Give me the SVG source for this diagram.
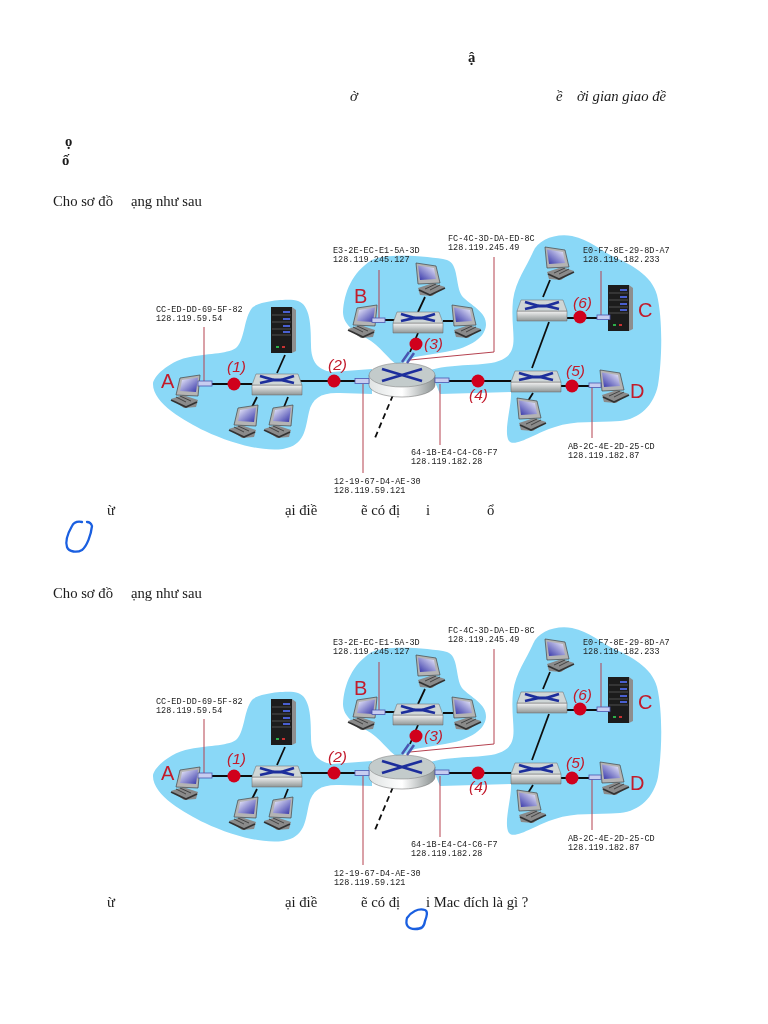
<svg xmlns="http://www.w3.org/2000/svg" xmlns:xlink="http://www.w3.org/1999/xlink" width="768" height="1024" viewBox="0 0 768 1024">
<style>
text{font-family:"Liberation Serif","Noto Sans CJK SC",serif;font-size:14.7px;fill:#1a1a1a}
.b{font-weight:bold}.i{font-style:italic}
.a{font-family:"Liberation Mono",monospace;font-size:8.5px;fill:#222}
.big{font-family:"Liberation Sans",sans-serif;font-size:20px;fill:#c21a2b}
.n{font-family:"Liberation Sans",sans-serif;font-size:15.5px;font-style:italic;fill:#c21a2b}
.blob{fill:#8ad8f7}
.lk{stroke:#111;stroke-width:1.8;fill:none}
.ld{stroke:#b5414f;stroke-width:1;fill:none}
.dot{fill:#d0021b}
.if{fill:#c7cdf0;stroke:#4a55b0;stroke-width:.8}
.ink{fill:none;stroke:#1a5fe0;stroke-width:2.300;stroke-linecap:round;stroke-linejoin:round}
.x{stroke:#1f2f9c;stroke-width:2.800;fill:none}
</style>
<defs>
<linearGradient id="scr" x1="0" y1="0" x2="1" y2="1"><stop offset="0" stop-color="#f4f4ff"/><stop offset="1" stop-color="#3434a8"/></linearGradient>
<linearGradient id="swf" x1="0" y1="0" x2="0" y2="1"><stop offset="0" stop-color="#f4f4f4"/><stop offset="1" stop-color="#8f9696"/></linearGradient>
<linearGradient id="rtf" x1="0" y1="0" x2="1" y2="0"><stop offset="0" stop-color="#dfe3e3"/><stop offset=".5" stop-color="#fff"/><stop offset="1" stop-color="#8b9292"/></linearGradient>
<filter id="soft" x="-5%" y="-5%" width="110%" height="110%"><feGaussianBlur stdDeviation="0.35"/></filter>
<g id="pc">
<path d="M-9,21 L3,17 L18,22 L16,29 L4,30Z" fill="#8a8a8a"/>
<path d="M-9,22 L6,29 L17,24" stroke="#333" stroke-width="1.600" fill="none"/>
<path d="M-4,19 L6,24 M0,18 L11,23" stroke="#444" stroke-width="1"/>
<path d="M0,0 L20,-3 L18,18 L-4,17Z" fill="#b4b4b4" stroke="#444" stroke-width=".7"/>
<path d="M2,2 L18,-.5 L16,14 L0,13Z" fill="url(#scr)"/>
</g>
<g id="pcr">
<use href="#pc" transform="scale(-1,1)"/>
</g>
<g id="sw">
<path d="M0,0 L50,0 L50,10 L0,10Z" fill="url(#swf)" stroke="#666" stroke-width=".5"/>
<path d="M4,-11 L46,-11 L50,0 L0,0Z" fill="#cfd6d6" stroke="#666" stroke-width=".5"/>
<path class="x" d="M8,-9 L22,-5 L29,-5 L42,-2 M42,-9 L29,-5 L22,-5 L8,-2"/>
</g>
<g id="srv">
<path d="M21,0 L25,3 L25,44 L21,46Z" fill="#8e8e8e"/>
<rect x="0" y="0" width="21" height="46" fill="#1c1c1c"/>
<path d="M1,8 H20 M1,15 H20 M1,22 H20 M1,28 H20" stroke="#666" stroke-width=".7"/>
<path d="M12,5 H19 M12,12 H19 M12,19 H19 M12,25 H19" stroke="#4a5fd0" stroke-width="1.800"/>
<rect x="5" y="39" width="3" height="2" fill="#2fae4a"/><rect x="11" y="39" width="3" height="2" fill="#c93030"/>
</g>
<g id="rt">
<path d="M-33,0 V10 A33,12 0 0 0 33,10 V0Z" fill="url(#rtf)" stroke="#666" stroke-width=".5"/>
<ellipse cx="0" cy="0" rx="33" ry="12" fill="#c3cbcb" stroke="#777" stroke-width=".5"/>
<path class="x" d="M-20,-6 L20,6 M20,-6 L-20,6"/>
</g>
</defs>

<g id="heading-text" filter="url(#soft)">
<text class="b" x="468" y="62">ậ</text>
<text class="i" x="350" y="101">ờ</text>
<text class="i" x="556" y="101">ề</text>
<text class="i" x="577" y="101">ời gian giao đề</text>
<text class="b" x="65" y="146">ọ</text>
<text class="b" x="62" y="165">ố</text>
<text x="53" y="206">Cho sơ đồ</text>
<text x="131" y="206">ạng như sau</text>
<text x="107" y="515">ừ</text>
<text x="285" y="515">ại điề</text>
<text x="361" y="515">ẽ có đị</text>
<text x="426" y="515">i</text>
<text x="487" y="515">ổ</text>
<text x="53" y="598">Cho sơ đồ</text>
<text x="131" y="598">ạng như sau</text>
<text x="107" y="907">ừ</text>
<text x="285" y="907">ại điề</text>
<text x="361" y="907">ẽ có đị</text>
<text x="426" y="907">i Mac đích là gì ?</text>
</g>
<path id="scribble-1" class="ink" d="M82,522 C77,521 74,522 72,526 C68,533 65,541 67,547 C69,552 77,553 82,550 C87,546 91,535 92,526 C91,523 89,522 87,522"/>
<path id="scribble-2" class="ink" d="M407,918 C405,925 408,929 415,929 C422,929 424,927 425,921 C427,916 428,911 425,910 C418,908 411,912 407,918Z"/>

<g id="diagram-1" filter="url(#soft)">
<g id="clouds-1">
<path class="blob" d="M153,383 C155,374 172,360 190,357 C210,353 230,354 237,347 C245,338 244,318 252,308 C258,301 290,298 298,301 C310,305 311,325 311,345 C311,362 318,370 332,372 L372,369 L372,394 L340,393 C322,392 312,398 309,412 C305,430 305,445 283,449 C262,452 230,443 205,431 C185,421 152,403 153,383Z"/>
<path class="blob" d="M343,312 C344,293 352,272 372,260 C385,253 430,256 447,260 C459,264 455,285 462,296 C470,305 487,312 486,325 C485,340 465,349 445,352 L415,357 L398,365 C388,360 380,345 366,338 C355,332 343,325 343,312Z"/>
<path class="blob" d="M533,252 C538,240 555,233 572,236 C590,240 600,250 612,256 C630,264 652,275 657,295 C663,320 662,360 658,385 C654,405 640,419 620,421 C595,423 575,420 555,427 C535,433 515,448 509,441 C503,432 512,405 511,392 L440,394 L430,370 C460,362 490,368 505,358 C520,348 510,330 513,300 C516,280 526,268 533,252Z"/>
</g>
<g id="connectors-1">
<path class="lk" d="M212,384 H252 M300,381 H355 M277,373 L285,355 M257,397 L252,407 M288,397 L284,407"/>
<path class="lk" stroke-dasharray="6 4" d="M393,395 L375,438"/>
<path class="lk" d="M385,320 H395 M418,312 L425,297 M443,321 H453 M418,333 L410,352"/>
<path class="lk" d="M449,381 H511 M532,368 L549,322 M543,297 L550,280 M567,318 H597 M561,386 H590 M533,393 L528,401"/>
<path class="ld" d="M204,327 V381 M363,384 V473 M379,270 V318 M410,360 L494,352 V257 M440,384 V445 M601,271 V315 M592,387 V438"/>
</g>
<g id="switch-a-1"><use href="#sw" transform="translate(252,385)"/></g>
<g id="switch-b-1"><use href="#sw" transform="translate(393,323)"/></g>
<g id="switch-c-1"><use href="#sw" transform="translate(517,311)"/></g>
<g id="switch-d-1"><use href="#sw" transform="translate(511,382)"/></g>
<g id="router-1"><use href="#rt" transform="translate(402,375)"/></g>
<g id="host-a-1"><use href="#pc" transform="translate(180,378)"/><rect class="if" x="198" y="381" width="14" height="5"/><text class="big" x="161" y="388">A</text></g>
<g id="server-a-1"><use href="#srv" transform="translate(271,307)"/></g>
<g id="pc-a1-1"><use href="#pc" transform="translate(238,408)"/></g>
<g id="pc-a2-1"><use href="#pc" transform="translate(273,408)"/></g>
<g id="host-b-1"><use href="#pc" transform="translate(357,308)"/><rect class="if" x="372" y="318" width="13" height="4.500"/><text class="big" x="354" y="303">B</text></g>
<g id="pc-b1-1"><use href="#pcr" transform="translate(436,266)"/></g>
<g id="pc-b2-1"><use href="#pcr" transform="translate(472,308)"/></g>
<g id="pc-c1-1"><use href="#pcr" transform="translate(565,250)"/></g>
<g id="host-c-1"><use href="#srv" transform="translate(608,285)"/><rect class="if" x="597" y="315" width="13" height="4.500"/><text class="big" x="638" y="317">C</text></g>
<g id="host-d-1"><use href="#pcr" transform="translate(620,373)"/><rect class="if" x="589" y="383" width="12" height="4.500"/><text class="big" x="630" y="398">D</text></g>
<g id="pc-d1-1"><use href="#pcr" transform="translate(537,401)"/></g>
<g id="if-router-1">
<rect class="if" x="355" y="378.500" width="14" height="5"/>
<rect class="if" x="435" y="378" width="14" height="4.500"/>
<path d="M402,362 L409,352 M407,363 L414,353" stroke="#4a55b0" stroke-width="2.500" fill="none"/>
</g>
<g id="points-1">
<circle class="dot" cx="234" cy="384" r="6.500"/><text class="n" x="227" y="372">(1)</text>
<circle class="dot" cx="334" cy="381" r="6.500"/><text class="n" x="328" y="370">(2)</text>
<circle class="dot" cx="416" cy="344" r="6.500"/><text class="n" x="424" y="349">(3)</text>
<circle class="dot" cx="478" cy="381" r="6.500"/><text class="n" x="469" y="400">(4)</text>
<circle class="dot" cx="572" cy="386" r="6.500"/><text class="n" x="566" y="376">(5)</text>
<circle class="dot" cx="580" cy="317" r="6.500"/><text class="n" x="573" y="308">(6)</text>
</g>
<g id="addresses-1">
<text class="a" x="156" y="312">CC-ED-DD-69-5F-82</text><text class="a" x="156" y="321">128.119.59.54</text>
<text class="a" x="333" y="253">E3-2E-EC-E1-5A-3D</text><text class="a" x="333" y="262">128.119.245.127</text>
<text class="a" x="448" y="241">FC-4C-3D-DA-ED-8C</text><text class="a" x="448" y="250">128.119.245.49</text>
<text class="a" x="583" y="253">E0-F7-8E-29-8D-A7</text><text class="a" x="583" y="262">128.119.182.233</text>
<text class="a" x="411" y="455">64-1B-E4-C4-C6-F7</text><text class="a" x="411" y="464">128.119.182.28</text>
<text class="a" x="568" y="449">AB-2C-4E-2D-25-CD</text><text class="a" x="568" y="458">128.119.182.87</text>
<text class="a" x="334" y="484">12-19-67-D4-AE-30</text><text class="a" x="334" y="493">128.119.59.121</text>
</g>
</g>

<g id="diagram-2" filter="url(#soft)" transform="translate(0,392)">
<g id="clouds-2">
<path class="blob" d="M153,383 C155,374 172,360 190,357 C210,353 230,354 237,347 C245,338 244,318 252,308 C258,301 290,298 298,301 C310,305 311,325 311,345 C311,362 318,370 332,372 L372,369 L372,394 L340,393 C322,392 312,398 309,412 C305,430 305,445 283,449 C262,452 230,443 205,431 C185,421 152,403 153,383Z"/>
<path class="blob" d="M343,312 C344,293 352,272 372,260 C385,253 430,256 447,260 C459,264 455,285 462,296 C470,305 487,312 486,325 C485,340 465,349 445,352 L415,357 L398,365 C388,360 380,345 366,338 C355,332 343,325 343,312Z"/>
<path class="blob" d="M533,252 C538,240 555,233 572,236 C590,240 600,250 612,256 C630,264 652,275 657,295 C663,320 662,360 658,385 C654,405 640,419 620,421 C595,423 575,420 555,427 C535,433 515,448 509,441 C503,432 512,405 511,392 L440,394 L430,370 C460,362 490,368 505,358 C520,348 510,330 513,300 C516,280 526,268 533,252Z"/>
</g>
<g id="connectors-2">
<path class="lk" d="M212,384 H252 M300,381 H355 M277,373 L285,355 M257,397 L252,407 M288,397 L284,407"/>
<path class="lk" stroke-dasharray="6 4" d="M393,395 L375,438"/>
<path class="lk" d="M385,320 H395 M418,312 L425,297 M443,321 H453 M418,333 L410,352"/>
<path class="lk" d="M449,381 H511 M532,368 L549,322 M543,297 L550,280 M567,318 H597 M561,386 H590 M533,393 L528,401"/>
<path class="ld" d="M204,327 V381 M363,384 V473 M379,270 V318 M410,360 L494,352 V257 M440,384 V445 M601,271 V315 M592,387 V438"/>
</g>
<g id="switch-a-2"><use href="#sw" transform="translate(252,385)"/></g>
<g id="switch-b-2"><use href="#sw" transform="translate(393,323)"/></g>
<g id="switch-c-2"><use href="#sw" transform="translate(517,311)"/></g>
<g id="switch-d-2"><use href="#sw" transform="translate(511,382)"/></g>
<g id="router-2"><use href="#rt" transform="translate(402,375)"/></g>
<g id="host-a-2"><use href="#pc" transform="translate(180,378)"/><rect class="if" x="198" y="381" width="14" height="5"/><text class="big" x="161" y="388">A</text></g>
<g id="server-a-2"><use href="#srv" transform="translate(271,307)"/></g>
<g id="pc-a1-2"><use href="#pc" transform="translate(238,408)"/></g>
<g id="pc-a2-2"><use href="#pc" transform="translate(273,408)"/></g>
<g id="host-b-2"><use href="#pc" transform="translate(357,308)"/><rect class="if" x="372" y="318" width="13" height="4.500"/><text class="big" x="354" y="303">B</text></g>
<g id="pc-b1-2"><use href="#pcr" transform="translate(436,266)"/></g>
<g id="pc-b2-2"><use href="#pcr" transform="translate(472,308)"/></g>
<g id="pc-c1-2"><use href="#pcr" transform="translate(565,250)"/></g>
<g id="host-c-2"><use href="#srv" transform="translate(608,285)"/><rect class="if" x="597" y="315" width="13" height="4.500"/><text class="big" x="638" y="317">C</text></g>
<g id="host-d-2"><use href="#pcr" transform="translate(620,373)"/><rect class="if" x="589" y="383" width="12" height="4.500"/><text class="big" x="630" y="398">D</text></g>
<g id="pc-d1-2"><use href="#pcr" transform="translate(537,401)"/></g>
<g id="if-router-2">
<rect class="if" x="355" y="378.500" width="14" height="5"/>
<rect class="if" x="435" y="378" width="14" height="4.500"/>
<path d="M402,362 L409,352 M407,363 L414,353" stroke="#4a55b0" stroke-width="2.500" fill="none"/>
</g>
<g id="points-2">
<circle class="dot" cx="234" cy="384" r="6.500"/><text class="n" x="227" y="372">(1)</text>
<circle class="dot" cx="334" cy="381" r="6.500"/><text class="n" x="328" y="370">(2)</text>
<circle class="dot" cx="416" cy="344" r="6.500"/><text class="n" x="424" y="349">(3)</text>
<circle class="dot" cx="478" cy="381" r="6.500"/><text class="n" x="469" y="400">(4)</text>
<circle class="dot" cx="572" cy="386" r="6.500"/><text class="n" x="566" y="376">(5)</text>
<circle class="dot" cx="580" cy="317" r="6.500"/><text class="n" x="573" y="308">(6)</text>
</g>
<g id="addresses-2">
<text class="a" x="156" y="312">CC-ED-DD-69-5F-82</text><text class="a" x="156" y="321">128.119.59.54</text>
<text class="a" x="333" y="253">E3-2E-EC-E1-5A-3D</text><text class="a" x="333" y="262">128.119.245.127</text>
<text class="a" x="448" y="241">FC-4C-3D-DA-ED-8C</text><text class="a" x="448" y="250">128.119.245.49</text>
<text class="a" x="583" y="253">E0-F7-8E-29-8D-A7</text><text class="a" x="583" y="262">128.119.182.233</text>
<text class="a" x="411" y="455">64-1B-E4-C4-C6-F7</text><text class="a" x="411" y="464">128.119.182.28</text>
<text class="a" x="568" y="449">AB-2C-4E-2D-25-CD</text><text class="a" x="568" y="458">128.119.182.87</text>
<text class="a" x="334" y="484">12-19-67-D4-AE-30</text><text class="a" x="334" y="493">128.119.59.121</text>
</g>
</g>
</svg>
